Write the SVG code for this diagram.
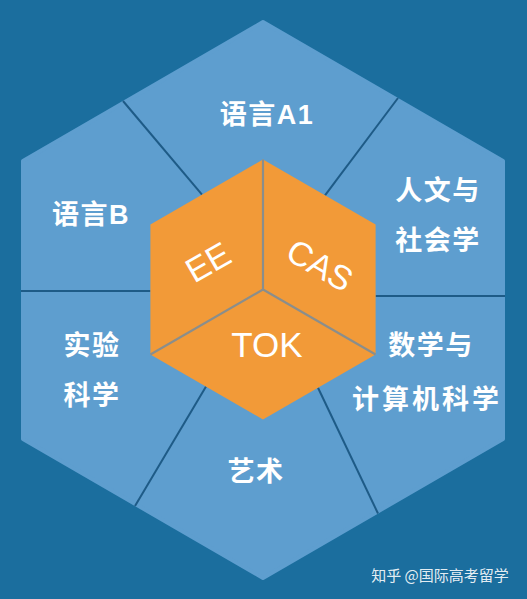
<svg xmlns="http://www.w3.org/2000/svg" width="527" height="599" viewBox="0 0 527 599">
<style>
.cn{font-family:"Liberation Sans","Noto Sans CJK SC",sans-serif;font-weight:bold;font-size:27px;fill:#ffffff;text-anchor:middle;letter-spacing:1.5px}
.core{font-family:"Liberation Sans","Noto Sans",sans-serif;font-size:34px;fill:#ffffff;text-anchor:middle}
.div{stroke:#1e5b87;stroke-width:2;fill:none}
.cube{stroke:#8a8e8c;stroke-width:2.2;fill:none}
</style>
<rect width="527" height="599" fill="#1b6e9e"/>
<g id="outer-hexagon">
<polygon points="263,22 503,161 503,439 263,578 23,439 23,161" fill="#5e9ecf" stroke="#5e9ecf" stroke-width="4" stroke-linejoin="round"/>
</g>
<g id="connectors">
<line class="div" x1="123" y1="101" x2="202" y2="194.7"/>
<line class="div" x1="398" y1="98" x2="325" y2="195.3"/>
<line class="div" x1="21" y1="291" x2="150.4" y2="291"/>
<line class="div" x1="375.6" y1="296" x2="505" y2="296"/>
<line class="div" x1="135" y1="506" x2="206" y2="386.6"/>
<line class="div" x1="378" y1="513.5" x2="318" y2="387.8"/>
</g>
<g id="core-cube">
<polygon points="263,159.5 375.6,224.5 375.6,354.5 263,419.5 150.4,354.5 150.4,224.5" fill="#f29a38"/>
<path class="cube" d="M263,289.5 L263,159.5 M263,289.5 L150.4,354.5 M263,289.5 L375.6,354.5"/>
</g>
<g id="node-EE"><text class="core" x="208" y="274" transform="rotate(-30 208 262)">EE</text></g>
<g id="node-CAS"><text class="core" x="320" y="277" transform="rotate(30 320 265)">CAS</text></g>
<g id="node-TOK"><text class="core" x="267" y="357" style="font-size:35px">TOK</text></g>
<g id="node-languageA1"><text class="cn" x="267" y="124">语言A1</text></g>
<g id="node-languageB"><text class="cn" x="91" y="224">语言B</text></g>
<g id="node-humanities"><text class="cn" x="438" y="200">人文与</text><text class="cn" x="438" y="250">社会学</text></g>
<g id="node-sciences"><text class="cn" x="92" y="355">实验</text><text class="cn" x="92" y="405">科学</text></g>
<g id="node-math"><text class="cn" x="431" y="355">数学与</text><text class="cn" x="427" y="409" style="letter-spacing:3px">计算机科学</text></g>
<g id="node-arts"><text class="cn" x="256" y="481">艺术</text></g>
<text x="440" y="581" style="font-family:'Noto Sans CJK SC',sans-serif;font-size:15px;fill:#ffffff;fill-opacity:0.9;text-anchor:middle">知乎 @国际高考留学</text>
</svg>
